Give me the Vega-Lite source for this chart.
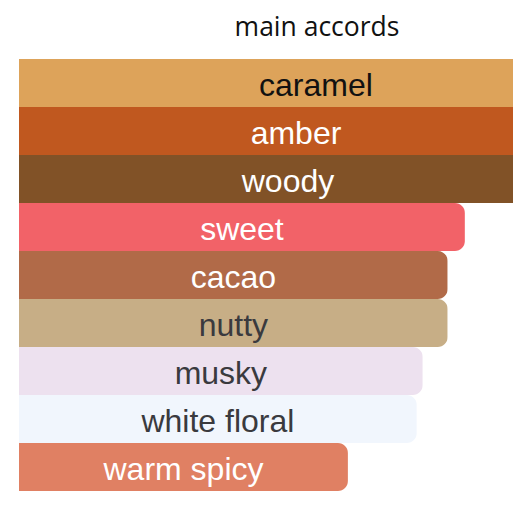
{
  "$schema": "https://vega.github.io/schema/vega-lite/v6.json",
  "autosize": "none",
  "width": 494,
  "height": 432,
  "padding": {"left": 19, "top": 59, "right": 0, "bottom": 22},
  "background": "white",
  "view": {"stroke": null},
  "title": {
    "text": "main accords",
    "anchor": "middle",
    "dx": 51,
    "offset": -3,
    "baseline": "alphabetic",
    "font": "Open Sans",
    "fontSize": 26.5,
    "fontWeight": "normal",
    "color": "#111111"
  },
  "data": {
    "values": [
      {"accord": "caramel", "value": 100, "label": "dark"},
      {"accord": "amber", "value": 93.3, "label": "light"},
      {"accord": "woody", "value": 90.6, "label": "light"},
      {"accord": "sweet", "value": 75.1, "label": "light"},
      {"accord": "cacao", "value": 72.2, "label": "light"},
      {"accord": "nutty", "value": 72.2, "label": "grey"},
      {"accord": "musky", "value": 68.0, "label": "grey"},
      {"accord": "white floral", "value": 67.0, "label": "grey"},
      {"accord": "warm spicy", "value": 55.4, "label": "light"}
    ]
  },
  "encoding": {
    "y": {
      "field": "accord",
      "type": "nominal",
      "sort": null,
      "axis": null,
      "scale": {"paddingInner": 0, "paddingOuter": 0}
    }
  },
  "layer": [
    {
      "mark": {"type": "bar", "cornerRadiusEnd": 10},
      "encoding": {
        "x": {
          "field": "value",
          "type": "quantitative",
          "axis": null,
          "scale": {"domain": [0, 83.2], "nice": false, "zero": true}
        },
        "color": {
          "field": "accord",
          "type": "nominal",
          "legend": null,
          "scale": {
            "domain": ["caramel", "amber", "woody", "sweet", "cacao", "nutty", "musky", "white floral", "warm spicy"],
            "range": ["#DDA35A", "#C0581F", "#815227", "#F26268", "#B16A48", "#C7AE86", "#EDE1EF", "#F1F6FD", "#E08063"]
          }
        }
      }
    },
    {
      "mark": {
        "type": "text",
        "align": "center",
        "baseline": "middle",
        "font": "Liberation Sans",
        "fontSize": 32,
        "dy": 3
      },
      "encoding": {
        "x": {
          "field": "value",
          "type": "quantitative",
          "axis": null,
          "scale": {"domain": [0, 166.4], "nice": false, "zero": true}
        },
        "text": {"field": "accord"},
        "color": {
          "field": "label",
          "type": "nominal",
          "legend": null,
          "scale": {
            "domain": ["dark", "light", "grey"],
            "range": ["#111111", "#ffffff", "#3a3a3e"]
          }
        }
      }
    }
  ],
  "resolve": {"scale": {"x": "independent", "color": "independent"}}
}
